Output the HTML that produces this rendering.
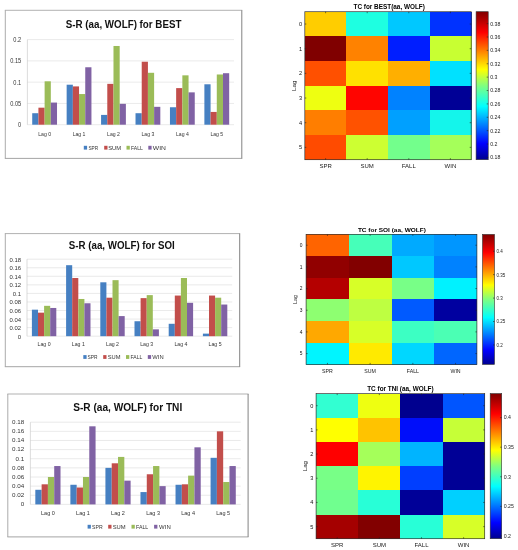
<!DOCTYPE html><html><head><meta charset="utf-8"><title>S-R and TC charts</title><style>html,body{margin:0;padding:0;background:#fff}svg{display:block}text{font-family:"Liberation Sans","DejaVu Sans",sans-serif}</style></head><body>
<svg width="518" height="550" viewBox="0 0 518 550">
<defs><linearGradient id="jet" x1="0" y1="1" x2="0" y2="0">
<stop offset="0" stop-color="#00008f"/>
<stop offset="0.11" stop-color="#0000ff"/>
<stop offset="0.36" stop-color="#00ffff"/>
<stop offset="0.5" stop-color="#80ff80"/>
<stop offset="0.61" stop-color="#ffff00"/>
<stop offset="0.86" stop-color="#ff0000"/>
<stop offset="1" stop-color="#800000"/>
</linearGradient></defs>
<rect width="518" height="550" fill="#fff"/>
<line x1="4.85" y1="10.3" x2="242.25" y2="10.3" stroke="#adadad" stroke-width="0.95"/>
<line x1="5.3" y1="10.3" x2="5.3" y2="158.4" stroke="#a6a6a6" stroke-width="0.95"/>
<line x1="4.85" y1="158.4" x2="242.25" y2="158.4" stroke="#a0a0a0" stroke-width="0.95"/>
<line x1="241.8" y1="10.3" x2="241.8" y2="158.4" stroke="#7c7c7c" stroke-width="0.95"/>
<line x1="27.4" y1="124.70" x2="234" y2="124.70" stroke="#d8d8d8" stroke-width="0.55"/>
<text x="21.2" y="127.10" font-size="6.4" fill="#333" text-anchor="end" textLength="3.13" lengthAdjust="spacingAndGlyphs">0</text>
<line x1="27.4" y1="103.43" x2="234" y2="103.43" stroke="#d8d8d8" stroke-width="0.55"/>
<text x="21.2" y="105.83" font-size="6.4" fill="#333" text-anchor="end" textLength="10.96" lengthAdjust="spacingAndGlyphs">0.05</text>
<line x1="27.4" y1="82.15" x2="234" y2="82.15" stroke="#d8d8d8" stroke-width="0.55"/>
<text x="21.2" y="84.55" font-size="6.4" fill="#333" text-anchor="end" textLength="7.83" lengthAdjust="spacingAndGlyphs">0.1</text>
<line x1="27.4" y1="60.88" x2="234" y2="60.88" stroke="#d8d8d8" stroke-width="0.55"/>
<text x="21.2" y="63.27" font-size="6.4" fill="#333" text-anchor="end" textLength="10.96" lengthAdjust="spacingAndGlyphs">0.15</text>
<line x1="27.4" y1="39.60" x2="234" y2="39.60" stroke="#d8d8d8" stroke-width="0.55"/>
<text x="21.2" y="42.00" font-size="6.4" fill="#333" text-anchor="end" textLength="7.83" lengthAdjust="spacingAndGlyphs">0.2</text>
<line x1="27.4" y1="39.6" x2="27.4" y2="124.7" stroke="#c4c4c4" stroke-width="0.6"/>
<rect x="32.22" y="113.21" width="6.2" height="11.49" fill="#4680c2"/>
<rect x="38.42" y="107.68" width="6.2" height="17.02" fill="#c24e4b"/>
<rect x="44.62" y="81.30" width="6.2" height="43.40" fill="#9bbc58"/>
<rect x="50.82" y="102.57" width="6.2" height="22.13" fill="#8062a4"/>
<text x="44.62" y="135.50" font-size="6.0" fill="#333" text-anchor="middle" textLength="12.8" lengthAdjust="spacingAndGlyphs">Lag 0</text>
<rect x="66.65" y="84.70" width="6.2" height="40.00" fill="#4680c2"/>
<rect x="72.85" y="86.41" width="6.2" height="38.29" fill="#c24e4b"/>
<rect x="79.05" y="94.06" width="6.2" height="30.64" fill="#9bbc58"/>
<rect x="85.25" y="67.26" width="6.2" height="57.44" fill="#8062a4"/>
<text x="79.05" y="135.50" font-size="6.0" fill="#333" text-anchor="middle" textLength="12.8" lengthAdjust="spacingAndGlyphs">Lag 1</text>
<rect x="101.08" y="114.91" width="6.2" height="9.79" fill="#4680c2"/>
<rect x="107.28" y="83.85" width="6.2" height="40.85" fill="#c24e4b"/>
<rect x="113.48" y="45.98" width="6.2" height="78.72" fill="#9bbc58"/>
<rect x="119.68" y="103.85" width="6.2" height="20.85" fill="#8062a4"/>
<text x="113.48" y="135.50" font-size="6.0" fill="#333" text-anchor="middle" textLength="12.8" lengthAdjust="spacingAndGlyphs">Lag 2</text>
<rect x="135.52" y="113.21" width="6.2" height="11.49" fill="#4680c2"/>
<rect x="141.72" y="61.73" width="6.2" height="62.97" fill="#c24e4b"/>
<rect x="147.92" y="72.79" width="6.2" height="51.91" fill="#9bbc58"/>
<rect x="154.12" y="106.83" width="6.2" height="17.87" fill="#8062a4"/>
<text x="147.92" y="135.50" font-size="6.0" fill="#333" text-anchor="middle" textLength="12.8" lengthAdjust="spacingAndGlyphs">Lag 3</text>
<rect x="169.95" y="107.25" width="6.2" height="17.45" fill="#4680c2"/>
<rect x="176.15" y="88.11" width="6.2" height="36.59" fill="#c24e4b"/>
<rect x="182.35" y="75.34" width="6.2" height="49.36" fill="#9bbc58"/>
<rect x="188.55" y="92.36" width="6.2" height="32.34" fill="#8062a4"/>
<text x="182.35" y="135.50" font-size="6.0" fill="#333" text-anchor="middle" textLength="12.8" lengthAdjust="spacingAndGlyphs">Lag 4</text>
<rect x="204.38" y="84.28" width="6.2" height="40.42" fill="#4680c2"/>
<rect x="210.58" y="111.94" width="6.2" height="12.76" fill="#c24e4b"/>
<rect x="216.78" y="74.49" width="6.2" height="50.21" fill="#9bbc58"/>
<rect x="222.98" y="73.21" width="6.2" height="51.49" fill="#8062a4"/>
<text x="216.78" y="135.50" font-size="6.0" fill="#333" text-anchor="middle" textLength="12.8" lengthAdjust="spacingAndGlyphs">Lag 5</text>
<text x="123.6" y="28.4" font-size="11.6" font-weight="bold" fill="#111" text-anchor="middle" textLength="115.7" lengthAdjust="spacingAndGlyphs">S-R (aa, WOLF) for BEST</text>
<rect x="83.80" y="145.80" width="3.3" height="3.8" fill="#4680c2"/>
<text x="88.40" y="149.60" font-size="6" fill="#333" textLength="9.7" lengthAdjust="spacingAndGlyphs">SPR</text>
<rect x="104.20" y="145.80" width="3.3" height="3.8" fill="#c24e4b"/>
<text x="108.20" y="149.60" font-size="6" fill="#333" textLength="13" lengthAdjust="spacingAndGlyphs">SUM</text>
<rect x="126.50" y="145.80" width="3.3" height="3.8" fill="#9bbc58"/>
<text x="131.00" y="149.60" font-size="6" fill="#333" textLength="11.8" lengthAdjust="spacingAndGlyphs">FALL</text>
<rect x="148.30" y="145.80" width="3.3" height="3.8" fill="#8062a4"/>
<text x="152.80" y="149.60" font-size="6" fill="#333" textLength="13.1" lengthAdjust="spacingAndGlyphs">WIN</text>
<line x1="4.85" y1="233.6" x2="240.14999999999998" y2="233.6" stroke="#adadad" stroke-width="0.95"/>
<line x1="5.3" y1="233.6" x2="5.3" y2="366.7" stroke="#a6a6a6" stroke-width="0.95"/>
<line x1="4.85" y1="366.7" x2="240.14999999999998" y2="366.7" stroke="#a0a0a0" stroke-width="0.95"/>
<line x1="239.7" y1="233.6" x2="239.7" y2="366.7" stroke="#7c7c7c" stroke-width="0.95"/>
<line x1="27" y1="336.20" x2="232.2" y2="336.20" stroke="#d8d8d8" stroke-width="0.55"/>
<text x="21" y="338.70" font-size="5.6" fill="#333" text-anchor="end" textLength="3.30" lengthAdjust="spacingAndGlyphs">0</text>
<line x1="27" y1="327.64" x2="232.2" y2="327.64" stroke="#d8d8d8" stroke-width="0.55"/>
<text x="21" y="330.14" font-size="5.6" fill="#333" text-anchor="end" textLength="11.55" lengthAdjust="spacingAndGlyphs">0.02</text>
<line x1="27" y1="319.09" x2="232.2" y2="319.09" stroke="#d8d8d8" stroke-width="0.55"/>
<text x="21" y="321.59" font-size="5.6" fill="#333" text-anchor="end" textLength="11.55" lengthAdjust="spacingAndGlyphs">0.04</text>
<line x1="27" y1="310.53" x2="232.2" y2="310.53" stroke="#d8d8d8" stroke-width="0.55"/>
<text x="21" y="313.03" font-size="5.6" fill="#333" text-anchor="end" textLength="11.55" lengthAdjust="spacingAndGlyphs">0.06</text>
<line x1="27" y1="301.98" x2="232.2" y2="301.98" stroke="#d8d8d8" stroke-width="0.55"/>
<text x="21" y="304.48" font-size="5.6" fill="#333" text-anchor="end" textLength="11.55" lengthAdjust="spacingAndGlyphs">0.08</text>
<line x1="27" y1="293.42" x2="232.2" y2="293.42" stroke="#d8d8d8" stroke-width="0.55"/>
<text x="21" y="295.92" font-size="5.6" fill="#333" text-anchor="end" textLength="8.25" lengthAdjust="spacingAndGlyphs">0.1</text>
<line x1="27" y1="284.87" x2="232.2" y2="284.87" stroke="#d8d8d8" stroke-width="0.55"/>
<text x="21" y="287.37" font-size="5.6" fill="#333" text-anchor="end" textLength="11.55" lengthAdjust="spacingAndGlyphs">0.12</text>
<line x1="27" y1="276.31" x2="232.2" y2="276.31" stroke="#d8d8d8" stroke-width="0.55"/>
<text x="21" y="278.81" font-size="5.6" fill="#333" text-anchor="end" textLength="11.55" lengthAdjust="spacingAndGlyphs">0.14</text>
<line x1="27" y1="267.76" x2="232.2" y2="267.76" stroke="#d8d8d8" stroke-width="0.55"/>
<text x="21" y="270.26" font-size="5.6" fill="#333" text-anchor="end" textLength="11.55" lengthAdjust="spacingAndGlyphs">0.16</text>
<line x1="27" y1="259.20" x2="232.2" y2="259.20" stroke="#d8d8d8" stroke-width="0.55"/>
<text x="21" y="261.70" font-size="5.6" fill="#333" text-anchor="end" textLength="11.55" lengthAdjust="spacingAndGlyphs">0.18</text>
<line x1="27" y1="259.2" x2="27" y2="336.2" stroke="#c4c4c4" stroke-width="0.6"/>
<rect x="31.90" y="309.68" width="6.1" height="26.52" fill="#4680c2"/>
<rect x="38.00" y="312.67" width="6.1" height="23.53" fill="#c24e4b"/>
<rect x="44.10" y="305.83" width="6.1" height="30.37" fill="#9bbc58"/>
<rect x="50.20" y="307.97" width="6.1" height="28.23" fill="#8062a4"/>
<text x="44.10" y="346.30" font-size="5.2" fill="#333" text-anchor="middle" textLength="13" lengthAdjust="spacingAndGlyphs">Lag 0</text>
<rect x="66.10" y="265.19" width="6.1" height="71.01" fill="#4680c2"/>
<rect x="72.20" y="278.02" width="6.1" height="58.18" fill="#c24e4b"/>
<rect x="78.30" y="298.98" width="6.1" height="37.22" fill="#9bbc58"/>
<rect x="84.40" y="303.26" width="6.1" height="32.94" fill="#8062a4"/>
<text x="78.30" y="346.30" font-size="5.2" fill="#333" text-anchor="middle" textLength="13" lengthAdjust="spacingAndGlyphs">Lag 1</text>
<rect x="100.30" y="282.30" width="6.1" height="53.90" fill="#4680c2"/>
<rect x="106.40" y="297.70" width="6.1" height="38.50" fill="#c24e4b"/>
<rect x="112.50" y="280.16" width="6.1" height="56.04" fill="#9bbc58"/>
<rect x="118.60" y="316.09" width="6.1" height="20.11" fill="#8062a4"/>
<text x="112.50" y="346.30" font-size="5.2" fill="#333" text-anchor="middle" textLength="13" lengthAdjust="spacingAndGlyphs">Lag 2</text>
<rect x="134.50" y="321.23" width="6.1" height="14.97" fill="#4680c2"/>
<rect x="140.60" y="298.13" width="6.1" height="38.07" fill="#c24e4b"/>
<rect x="146.70" y="295.13" width="6.1" height="41.07" fill="#9bbc58"/>
<rect x="152.80" y="329.36" width="6.1" height="6.84" fill="#8062a4"/>
<text x="146.70" y="346.30" font-size="5.2" fill="#333" text-anchor="middle" textLength="13" lengthAdjust="spacingAndGlyphs">Lag 3</text>
<rect x="168.70" y="323.79" width="6.1" height="12.41" fill="#4680c2"/>
<rect x="174.80" y="295.56" width="6.1" height="40.64" fill="#c24e4b"/>
<rect x="180.90" y="278.02" width="6.1" height="58.18" fill="#9bbc58"/>
<rect x="187.00" y="302.83" width="6.1" height="33.37" fill="#8062a4"/>
<text x="180.90" y="346.30" font-size="5.2" fill="#333" text-anchor="middle" textLength="13" lengthAdjust="spacingAndGlyphs">Lag 4</text>
<rect x="202.90" y="333.63" width="6.1" height="2.57" fill="#4680c2"/>
<rect x="209.00" y="295.56" width="6.1" height="40.64" fill="#c24e4b"/>
<rect x="215.10" y="297.70" width="6.1" height="38.50" fill="#9bbc58"/>
<rect x="221.20" y="304.54" width="6.1" height="31.66" fill="#8062a4"/>
<text x="215.10" y="346.30" font-size="5.2" fill="#333" text-anchor="middle" textLength="13" lengthAdjust="spacingAndGlyphs">Lag 5</text>
<text x="121.8" y="249.3" font-size="11" font-weight="bold" fill="#111" text-anchor="middle" textLength="106" lengthAdjust="spacingAndGlyphs">S-R (aa, WOLF) for SOI</text>
<rect x="83.30" y="355.10" width="3.3" height="3.8" fill="#4680c2"/>
<text x="87.60" y="358.90" font-size="6" fill="#333" textLength="10" lengthAdjust="spacingAndGlyphs">SPR</text>
<rect x="103.20" y="355.10" width="3.3" height="3.8" fill="#c24e4b"/>
<text x="107.70" y="358.90" font-size="6" fill="#333" textLength="12.8" lengthAdjust="spacingAndGlyphs">SUM</text>
<rect x="126.00" y="355.10" width="3.3" height="3.8" fill="#9bbc58"/>
<text x="130.50" y="358.90" font-size="6" fill="#333" textLength="11.8" lengthAdjust="spacingAndGlyphs">FALL</text>
<rect x="147.80" y="355.10" width="3.3" height="3.8" fill="#8062a4"/>
<text x="152.30" y="358.90" font-size="6" fill="#333" textLength="11.3" lengthAdjust="spacingAndGlyphs">WIN</text>
<line x1="7.35" y1="394" x2="248.54999999999998" y2="394" stroke="#adadad" stroke-width="0.95"/>
<line x1="7.8" y1="394" x2="7.8" y2="536.9" stroke="#a6a6a6" stroke-width="0.95"/>
<line x1="7.35" y1="536.9" x2="248.54999999999998" y2="536.9" stroke="#a0a0a0" stroke-width="0.95"/>
<line x1="248.1" y1="394" x2="248.1" y2="536.9" stroke="#7c7c7c" stroke-width="0.95"/>
<line x1="30.4" y1="504.40" x2="240.7" y2="504.40" stroke="#d8d8d8" stroke-width="0.55"/>
<text x="24.3" y="506.20" font-size="5.9" fill="#333" text-anchor="end" textLength="3.48" lengthAdjust="spacingAndGlyphs">0</text>
<line x1="30.4" y1="495.27" x2="240.7" y2="495.27" stroke="#d8d8d8" stroke-width="0.55"/>
<text x="24.3" y="497.07" font-size="5.9" fill="#333" text-anchor="end" textLength="12.17" lengthAdjust="spacingAndGlyphs">0.02</text>
<line x1="30.4" y1="486.13" x2="240.7" y2="486.13" stroke="#d8d8d8" stroke-width="0.55"/>
<text x="24.3" y="487.93" font-size="5.9" fill="#333" text-anchor="end" textLength="12.17" lengthAdjust="spacingAndGlyphs">0.04</text>
<line x1="30.4" y1="477.00" x2="240.7" y2="477.00" stroke="#d8d8d8" stroke-width="0.55"/>
<text x="24.3" y="478.80" font-size="5.9" fill="#333" text-anchor="end" textLength="12.17" lengthAdjust="spacingAndGlyphs">0.06</text>
<line x1="30.4" y1="467.87" x2="240.7" y2="467.87" stroke="#d8d8d8" stroke-width="0.55"/>
<text x="24.3" y="469.67" font-size="5.9" fill="#333" text-anchor="end" textLength="12.17" lengthAdjust="spacingAndGlyphs">0.08</text>
<line x1="30.4" y1="458.73" x2="240.7" y2="458.73" stroke="#d8d8d8" stroke-width="0.55"/>
<text x="24.3" y="460.53" font-size="5.9" fill="#333" text-anchor="end" textLength="8.69" lengthAdjust="spacingAndGlyphs">0.1</text>
<line x1="30.4" y1="449.60" x2="240.7" y2="449.60" stroke="#d8d8d8" stroke-width="0.55"/>
<text x="24.3" y="451.40" font-size="5.9" fill="#333" text-anchor="end" textLength="12.17" lengthAdjust="spacingAndGlyphs">0.12</text>
<line x1="30.4" y1="440.47" x2="240.7" y2="440.47" stroke="#d8d8d8" stroke-width="0.55"/>
<text x="24.3" y="442.27" font-size="5.9" fill="#333" text-anchor="end" textLength="12.17" lengthAdjust="spacingAndGlyphs">0.14</text>
<line x1="30.4" y1="431.33" x2="240.7" y2="431.33" stroke="#d8d8d8" stroke-width="0.55"/>
<text x="24.3" y="433.13" font-size="5.9" fill="#333" text-anchor="end" textLength="12.17" lengthAdjust="spacingAndGlyphs">0.16</text>
<line x1="30.4" y1="422.20" x2="240.7" y2="422.20" stroke="#d8d8d8" stroke-width="0.55"/>
<text x="24.3" y="424.00" font-size="5.9" fill="#333" text-anchor="end" textLength="12.17" lengthAdjust="spacingAndGlyphs">0.18</text>
<line x1="30.4" y1="422.2" x2="30.4" y2="504.4" stroke="#c4c4c4" stroke-width="0.6"/>
<rect x="35.32" y="489.79" width="6.3" height="14.61" fill="#4680c2"/>
<rect x="41.62" y="484.31" width="6.3" height="20.09" fill="#c24e4b"/>
<rect x="47.92" y="477.00" width="6.3" height="27.40" fill="#9bbc58"/>
<rect x="54.22" y="466.04" width="6.3" height="38.36" fill="#8062a4"/>
<text x="47.92" y="514.90" font-size="5.4" fill="#333" text-anchor="middle" textLength="13.8" lengthAdjust="spacingAndGlyphs">Lag 0</text>
<rect x="70.37" y="484.76" width="6.3" height="19.64" fill="#4680c2"/>
<rect x="76.67" y="487.50" width="6.3" height="16.90" fill="#c24e4b"/>
<rect x="82.97" y="477.00" width="6.3" height="27.40" fill="#9bbc58"/>
<rect x="89.27" y="426.31" width="6.3" height="78.09" fill="#8062a4"/>
<text x="82.97" y="514.90" font-size="5.4" fill="#333" text-anchor="middle" textLength="13.8" lengthAdjust="spacingAndGlyphs">Lag 1</text>
<rect x="105.42" y="467.87" width="6.3" height="36.53" fill="#4680c2"/>
<rect x="111.72" y="463.30" width="6.3" height="41.10" fill="#c24e4b"/>
<rect x="118.02" y="456.91" width="6.3" height="47.49" fill="#9bbc58"/>
<rect x="124.32" y="480.65" width="6.3" height="23.75" fill="#8062a4"/>
<text x="118.03" y="514.90" font-size="5.4" fill="#333" text-anchor="middle" textLength="13.8" lengthAdjust="spacingAndGlyphs">Lag 2</text>
<rect x="140.47" y="492.07" width="6.3" height="12.33" fill="#4680c2"/>
<rect x="146.78" y="474.26" width="6.3" height="30.14" fill="#c24e4b"/>
<rect x="153.07" y="466.04" width="6.3" height="38.36" fill="#9bbc58"/>
<rect x="159.38" y="486.13" width="6.3" height="18.27" fill="#8062a4"/>
<text x="153.07" y="514.90" font-size="5.4" fill="#333" text-anchor="middle" textLength="13.8" lengthAdjust="spacingAndGlyphs">Lag 3</text>
<rect x="175.53" y="484.76" width="6.3" height="19.64" fill="#4680c2"/>
<rect x="181.83" y="484.31" width="6.3" height="20.09" fill="#c24e4b"/>
<rect x="188.12" y="475.63" width="6.3" height="28.77" fill="#9bbc58"/>
<rect x="194.43" y="447.32" width="6.3" height="57.08" fill="#8062a4"/>
<text x="188.12" y="514.90" font-size="5.4" fill="#333" text-anchor="middle" textLength="13.8" lengthAdjust="spacingAndGlyphs">Lag 4</text>
<rect x="210.58" y="457.82" width="6.3" height="46.58" fill="#4680c2"/>
<rect x="216.88" y="431.33" width="6.3" height="73.07" fill="#c24e4b"/>
<rect x="223.18" y="482.02" width="6.3" height="22.38" fill="#9bbc58"/>
<rect x="229.48" y="466.04" width="6.3" height="38.36" fill="#8062a4"/>
<text x="223.18" y="514.90" font-size="5.4" fill="#333" text-anchor="middle" textLength="13.8" lengthAdjust="spacingAndGlyphs">Lag 5</text>
<text x="127.7" y="411.1" font-size="11.5" font-weight="bold" fill="#111" text-anchor="middle" textLength="109" lengthAdjust="spacingAndGlyphs">S-R (aa, WOLF) for TNI</text>
<rect x="87.60" y="524.80" width="3.3" height="3.8" fill="#4680c2"/>
<text x="92.10" y="528.60" font-size="6" fill="#333" textLength="10.6" lengthAdjust="spacingAndGlyphs">SPR</text>
<rect x="108.20" y="524.80" width="3.3" height="3.8" fill="#c24e4b"/>
<text x="112.70" y="528.60" font-size="6" fill="#333" textLength="13" lengthAdjust="spacingAndGlyphs">SUM</text>
<rect x="131.50" y="524.80" width="3.3" height="3.8" fill="#9bbc58"/>
<text x="136.00" y="528.60" font-size="6" fill="#333" textLength="12.3" lengthAdjust="spacingAndGlyphs">FALL</text>
<rect x="154.10" y="524.80" width="3.3" height="3.8" fill="#8062a4"/>
<text x="159.10" y="528.60" font-size="6" fill="#333" textLength="11.6" lengthAdjust="spacingAndGlyphs">WIN</text>
<rect x="304.80" y="11.70" width="41.90" height="24.97" fill="rgb(255, 205, 0)" shape-rendering="crispEdges"/>
<rect x="346.40" y="11.70" width="41.90" height="24.97" fill="rgb(30, 255, 225)" shape-rendering="crispEdges"/>
<rect x="388.00" y="11.70" width="41.90" height="24.97" fill="rgb(0, 200, 255)" shape-rendering="crispEdges"/>
<rect x="429.60" y="11.70" width="41.90" height="24.97" fill="rgb(0, 50, 255)" shape-rendering="crispEdges"/>
<rect x="304.80" y="36.37" width="41.90" height="24.97" fill="rgb(128, 0, 0)" shape-rendering="crispEdges"/>
<rect x="346.40" y="36.37" width="41.90" height="24.97" fill="rgb(255, 130, 0)" shape-rendering="crispEdges"/>
<rect x="388.00" y="36.37" width="41.90" height="24.97" fill="rgb(0, 30, 255)" shape-rendering="crispEdges"/>
<rect x="429.60" y="36.37" width="41.90" height="24.97" fill="rgb(200, 255, 50)" shape-rendering="crispEdges"/>
<rect x="304.80" y="61.03" width="41.90" height="24.97" fill="rgb(255, 80, 0)" shape-rendering="crispEdges"/>
<rect x="346.40" y="61.03" width="41.90" height="24.97" fill="rgb(255, 225, 0)" shape-rendering="crispEdges"/>
<rect x="388.00" y="61.03" width="41.90" height="24.97" fill="rgb(255, 175, 0)" shape-rendering="crispEdges"/>
<rect x="429.60" y="61.03" width="41.90" height="24.97" fill="rgb(0, 225, 255)" shape-rendering="crispEdges"/>
<rect x="304.80" y="85.70" width="41.90" height="24.97" fill="rgb(238, 255, 17)" shape-rendering="crispEdges"/>
<rect x="346.40" y="85.70" width="41.90" height="24.97" fill="rgb(255, 5, 0)" shape-rendering="crispEdges"/>
<rect x="388.00" y="85.70" width="41.90" height="24.97" fill="rgb(0, 130, 255)" shape-rendering="crispEdges"/>
<rect x="429.60" y="85.70" width="41.90" height="24.97" fill="rgb(0, 0, 150)" shape-rendering="crispEdges"/>
<rect x="304.80" y="110.37" width="41.90" height="24.97" fill="rgb(255, 126, 0)" shape-rendering="crispEdges"/>
<rect x="346.40" y="110.37" width="41.90" height="24.97" fill="rgb(255, 82, 0)" shape-rendering="crispEdges"/>
<rect x="388.00" y="110.37" width="41.90" height="24.97" fill="rgb(0, 160, 255)" shape-rendering="crispEdges"/>
<rect x="429.60" y="110.37" width="41.90" height="24.97" fill="rgb(20, 245, 235)" shape-rendering="crispEdges"/>
<rect x="304.80" y="135.03" width="41.90" height="24.97" fill="rgb(255, 75, 0)" shape-rendering="crispEdges"/>
<rect x="346.40" y="135.03" width="41.90" height="24.97" fill="rgb(205, 255, 50)" shape-rendering="crispEdges"/>
<rect x="388.00" y="135.03" width="41.90" height="24.97" fill="rgb(115, 255, 140)" shape-rendering="crispEdges"/>
<rect x="429.60" y="135.03" width="41.90" height="24.97" fill="rgb(165, 255, 90)" shape-rendering="crispEdges"/>
<rect x="304.8" y="11.7" width="166.39999999999998" height="148.0" fill="none" stroke="#333" stroke-width="0.7"/>
<line x1="304.8" y1="24.03" x2="306.3" y2="24.03" stroke="#222" stroke-width="0.6"/>
<line x1="471.2" y1="24.03" x2="469.7" y2="24.03" stroke="#222" stroke-width="0.6"/>
<text x="302.00" y="26.03" font-size="5.60" fill="#111" text-anchor="end">0</text>
<line x1="304.8" y1="48.70" x2="306.3" y2="48.70" stroke="#222" stroke-width="0.6"/>
<line x1="471.2" y1="48.70" x2="469.7" y2="48.70" stroke="#222" stroke-width="0.6"/>
<text x="302.00" y="50.70" font-size="5.60" fill="#111" text-anchor="end">1</text>
<line x1="304.8" y1="73.37" x2="306.3" y2="73.37" stroke="#222" stroke-width="0.6"/>
<line x1="471.2" y1="73.37" x2="469.7" y2="73.37" stroke="#222" stroke-width="0.6"/>
<text x="302.00" y="75.37" font-size="5.60" fill="#111" text-anchor="end">2</text>
<line x1="304.8" y1="98.03" x2="306.3" y2="98.03" stroke="#222" stroke-width="0.6"/>
<line x1="471.2" y1="98.03" x2="469.7" y2="98.03" stroke="#222" stroke-width="0.6"/>
<text x="302.00" y="100.03" font-size="5.60" fill="#111" text-anchor="end">3</text>
<line x1="304.8" y1="122.70" x2="306.3" y2="122.70" stroke="#222" stroke-width="0.6"/>
<line x1="471.2" y1="122.70" x2="469.7" y2="122.70" stroke="#222" stroke-width="0.6"/>
<text x="302.00" y="124.70" font-size="5.60" fill="#111" text-anchor="end">4</text>
<line x1="304.8" y1="147.37" x2="306.3" y2="147.37" stroke="#222" stroke-width="0.6"/>
<line x1="471.2" y1="147.37" x2="469.7" y2="147.37" stroke="#222" stroke-width="0.6"/>
<text x="302.00" y="149.37" font-size="5.60" fill="#111" text-anchor="end">5</text>
<line x1="325.60" y1="11.7" x2="325.60" y2="13.2" stroke="#222" stroke-width="0.6"/>
<line x1="325.60" y1="159.7" x2="325.60" y2="158.2" stroke="#222" stroke-width="0.6"/>
<text x="325.60" y="168.00" font-size="6.00" fill="#1a1a1a" text-anchor="middle">SPR</text>
<line x1="367.20" y1="11.7" x2="367.20" y2="13.2" stroke="#222" stroke-width="0.6"/>
<line x1="367.20" y1="159.7" x2="367.20" y2="158.2" stroke="#222" stroke-width="0.6"/>
<text x="367.20" y="168.00" font-size="6.00" fill="#1a1a1a" text-anchor="middle">SUM</text>
<line x1="408.80" y1="11.7" x2="408.80" y2="13.2" stroke="#222" stroke-width="0.6"/>
<line x1="408.80" y1="159.7" x2="408.80" y2="158.2" stroke="#222" stroke-width="0.6"/>
<text x="408.80" y="168.00" font-size="6.00" fill="#1a1a1a" text-anchor="middle">FALL</text>
<line x1="450.40" y1="11.7" x2="450.40" y2="13.2" stroke="#222" stroke-width="0.6"/>
<line x1="450.40" y1="159.7" x2="450.40" y2="158.2" stroke="#222" stroke-width="0.6"/>
<text x="450.40" y="168.00" font-size="6.00" fill="#1a1a1a" text-anchor="middle">WIN</text>
<text x="295.6" y="85.69999999999999" font-size="6.20" fill="#1a1a1a" text-anchor="middle" transform="rotate(-90 295.6 85.69999999999999)">Lag</text>
<text x="389.20" y="9.30" font-size="6.40" font-weight="bold" fill="#000" text-anchor="middle">TC for BEST(aa, WOLF)</text>
<rect x="476.1" y="11.7" width="12.099999999999966" height="148.0" fill="url(#jet)" stroke="#333" stroke-width="0.6"/>
<line x1="488.2" y1="157.43" x2="486.7" y2="157.43" stroke="#222" stroke-width="0.6"/>
<text x="490.2" y="159.33" font-size="5.20" fill="#222">0.18</text>
<line x1="488.2" y1="144.04" x2="486.7" y2="144.04" stroke="#222" stroke-width="0.6"/>
<text x="490.2" y="145.94" font-size="5.20" fill="#222">0.2</text>
<line x1="488.2" y1="130.66" x2="486.7" y2="130.66" stroke="#222" stroke-width="0.6"/>
<text x="490.2" y="132.56" font-size="5.20" fill="#222">0.22</text>
<line x1="488.2" y1="117.28" x2="486.7" y2="117.28" stroke="#222" stroke-width="0.6"/>
<text x="490.2" y="119.18" font-size="5.20" fill="#222">0.24</text>
<line x1="488.2" y1="103.90" x2="486.7" y2="103.90" stroke="#222" stroke-width="0.6"/>
<text x="490.2" y="105.80" font-size="5.20" fill="#222">0.26</text>
<line x1="488.2" y1="90.52" x2="486.7" y2="90.52" stroke="#222" stroke-width="0.6"/>
<text x="490.2" y="92.42" font-size="5.20" fill="#222">0.28</text>
<line x1="488.2" y1="77.14" x2="486.7" y2="77.14" stroke="#222" stroke-width="0.6"/>
<text x="490.2" y="79.04" font-size="5.20" fill="#222">0.3</text>
<line x1="488.2" y1="63.75" x2="486.7" y2="63.75" stroke="#222" stroke-width="0.6"/>
<text x="490.2" y="65.65" font-size="5.20" fill="#222">0.32</text>
<line x1="488.2" y1="50.37" x2="486.7" y2="50.37" stroke="#222" stroke-width="0.6"/>
<text x="490.2" y="52.27" font-size="5.20" fill="#222">0.34</text>
<line x1="488.2" y1="36.99" x2="486.7" y2="36.99" stroke="#222" stroke-width="0.6"/>
<text x="490.2" y="38.89" font-size="5.20" fill="#222">0.36</text>
<line x1="488.2" y1="23.61" x2="486.7" y2="23.61" stroke="#222" stroke-width="0.6"/>
<text x="490.2" y="25.51" font-size="5.20" fill="#222">0.38</text>
<rect x="306.10" y="234.40" width="43.00" height="21.97" fill="rgb(255, 100, 0)" shape-rendering="crispEdges"/>
<rect x="348.80" y="234.40" width="43.00" height="21.97" fill="rgb(70, 255, 185)" shape-rendering="crispEdges"/>
<rect x="391.50" y="234.40" width="43.00" height="21.97" fill="rgb(0, 170, 255)" shape-rendering="crispEdges"/>
<rect x="434.20" y="234.40" width="43.00" height="21.97" fill="rgb(0, 150, 255)" shape-rendering="crispEdges"/>
<rect x="306.10" y="256.07" width="43.00" height="21.97" fill="rgb(145, 0, 0)" shape-rendering="crispEdges"/>
<rect x="348.80" y="256.07" width="43.00" height="21.97" fill="rgb(130, 0, 0)" shape-rendering="crispEdges"/>
<rect x="391.50" y="256.07" width="43.00" height="21.97" fill="rgb(0, 200, 255)" shape-rendering="crispEdges"/>
<rect x="434.20" y="256.07" width="43.00" height="21.97" fill="rgb(0, 130, 255)" shape-rendering="crispEdges"/>
<rect x="306.10" y="277.73" width="43.00" height="21.97" fill="rgb(180, 0, 0)" shape-rendering="crispEdges"/>
<rect x="348.80" y="277.73" width="43.00" height="21.97" fill="rgb(215, 255, 40)" shape-rendering="crispEdges"/>
<rect x="391.50" y="277.73" width="43.00" height="21.97" fill="rgb(120, 255, 135)" shape-rendering="crispEdges"/>
<rect x="434.20" y="277.73" width="43.00" height="21.97" fill="rgb(0, 242, 255)" shape-rendering="crispEdges"/>
<rect x="306.10" y="299.40" width="43.00" height="21.97" fill="rgb(142, 255, 113)" shape-rendering="crispEdges"/>
<rect x="348.80" y="299.40" width="43.00" height="21.97" fill="rgb(190, 255, 65)" shape-rendering="crispEdges"/>
<rect x="391.50" y="299.40" width="43.00" height="21.97" fill="rgb(0, 90, 255)" shape-rendering="crispEdges"/>
<rect x="434.20" y="299.40" width="43.00" height="21.97" fill="rgb(0, 0, 160)" shape-rendering="crispEdges"/>
<rect x="306.10" y="321.07" width="43.00" height="21.97" fill="rgb(255, 168, 0)" shape-rendering="crispEdges"/>
<rect x="348.80" y="321.07" width="43.00" height="21.97" fill="rgb(215, 255, 40)" shape-rendering="crispEdges"/>
<rect x="391.50" y="321.07" width="43.00" height="21.97" fill="rgb(60, 255, 195)" shape-rendering="crispEdges"/>
<rect x="434.20" y="321.07" width="43.00" height="21.97" fill="rgb(75, 255, 180)" shape-rendering="crispEdges"/>
<rect x="306.10" y="342.73" width="43.00" height="21.97" fill="rgb(0, 245, 255)" shape-rendering="crispEdges"/>
<rect x="348.80" y="342.73" width="43.00" height="21.97" fill="rgb(255, 234, 0)" shape-rendering="crispEdges"/>
<rect x="391.50" y="342.73" width="43.00" height="21.97" fill="rgb(0, 215, 255)" shape-rendering="crispEdges"/>
<rect x="434.20" y="342.73" width="43.00" height="21.97" fill="rgb(0, 102, 255)" shape-rendering="crispEdges"/>
<rect x="306.1" y="234.4" width="170.79999999999995" height="129.99999999999997" fill="none" stroke="#333" stroke-width="0.7"/>
<line x1="306.1" y1="245.23" x2="307.6" y2="245.23" stroke="#222" stroke-width="0.6"/>
<line x1="476.9" y1="245.23" x2="475.4" y2="245.23" stroke="#222" stroke-width="0.6"/>
<text x="302.50" y="246.97" font-size="4.87" fill="#111" text-anchor="end">0</text>
<line x1="306.1" y1="266.90" x2="307.6" y2="266.90" stroke="#222" stroke-width="0.6"/>
<line x1="476.9" y1="266.90" x2="475.4" y2="266.90" stroke="#222" stroke-width="0.6"/>
<text x="302.50" y="268.64" font-size="4.87" fill="#111" text-anchor="end">1</text>
<line x1="306.1" y1="288.57" x2="307.6" y2="288.57" stroke="#222" stroke-width="0.6"/>
<line x1="476.9" y1="288.57" x2="475.4" y2="288.57" stroke="#222" stroke-width="0.6"/>
<text x="302.50" y="290.31" font-size="4.87" fill="#111" text-anchor="end">2</text>
<line x1="306.1" y1="310.23" x2="307.6" y2="310.23" stroke="#222" stroke-width="0.6"/>
<line x1="476.9" y1="310.23" x2="475.4" y2="310.23" stroke="#222" stroke-width="0.6"/>
<text x="302.50" y="311.97" font-size="4.87" fill="#111" text-anchor="end">3</text>
<line x1="306.1" y1="331.90" x2="307.6" y2="331.90" stroke="#222" stroke-width="0.6"/>
<line x1="476.9" y1="331.90" x2="475.4" y2="331.90" stroke="#222" stroke-width="0.6"/>
<text x="302.50" y="333.64" font-size="4.87" fill="#111" text-anchor="end">4</text>
<line x1="306.1" y1="353.57" x2="307.6" y2="353.57" stroke="#222" stroke-width="0.6"/>
<line x1="476.9" y1="353.57" x2="475.4" y2="353.57" stroke="#222" stroke-width="0.6"/>
<text x="302.50" y="355.31" font-size="4.87" fill="#111" text-anchor="end">5</text>
<line x1="327.45" y1="234.4" x2="327.45" y2="235.9" stroke="#222" stroke-width="0.6"/>
<line x1="327.45" y1="364.4" x2="327.45" y2="362.9" stroke="#222" stroke-width="0.6"/>
<text x="327.45" y="372.70" font-size="5.22" fill="#1a1a1a" text-anchor="middle">SPR</text>
<line x1="370.15" y1="234.4" x2="370.15" y2="235.9" stroke="#222" stroke-width="0.6"/>
<line x1="370.15" y1="364.4" x2="370.15" y2="362.9" stroke="#222" stroke-width="0.6"/>
<text x="370.15" y="372.70" font-size="5.22" fill="#1a1a1a" text-anchor="middle">SUM</text>
<line x1="412.85" y1="234.4" x2="412.85" y2="235.9" stroke="#222" stroke-width="0.6"/>
<line x1="412.85" y1="364.4" x2="412.85" y2="362.9" stroke="#222" stroke-width="0.6"/>
<text x="412.85" y="372.70" font-size="5.22" fill="#1a1a1a" text-anchor="middle">FALL</text>
<line x1="455.55" y1="234.4" x2="455.55" y2="235.9" stroke="#222" stroke-width="0.6"/>
<line x1="455.55" y1="364.4" x2="455.55" y2="362.9" stroke="#222" stroke-width="0.6"/>
<text x="455.55" y="372.70" font-size="5.22" fill="#1a1a1a" text-anchor="middle">WIN</text>
<text x="296.90000000000003" y="299.4" font-size="5.39" fill="#1a1a1a" text-anchor="middle" transform="rotate(-90 296.90000000000003 299.4)">Lag</text>
<text x="391.90" y="232.00" font-size="5.57" font-weight="bold" fill="#000" text-anchor="middle" textLength="68" lengthAdjust="spacingAndGlyphs">TC for SOI (aa, WOLF)</text>
<rect x="482.5" y="234.4" width="12.0" height="129.99999999999997" fill="url(#jet)" stroke="#333" stroke-width="0.6"/>
<line x1="494.5" y1="344.98" x2="493.0" y2="344.98" stroke="#222" stroke-width="0.6"/>
<text x="496.5" y="346.88" font-size="4.52" fill="#222">0.2</text>
<line x1="494.5" y1="321.54" x2="493.0" y2="321.54" stroke="#222" stroke-width="0.6"/>
<text x="496.5" y="323.44" font-size="4.52" fill="#222">0.25</text>
<line x1="494.5" y1="298.09" x2="493.0" y2="298.09" stroke="#222" stroke-width="0.6"/>
<text x="496.5" y="299.99" font-size="4.52" fill="#222">0.3</text>
<line x1="494.5" y1="274.64" x2="493.0" y2="274.64" stroke="#222" stroke-width="0.6"/>
<text x="496.5" y="276.54" font-size="4.52" fill="#222">0.35</text>
<line x1="494.5" y1="251.19" x2="493.0" y2="251.19" stroke="#222" stroke-width="0.6"/>
<text x="496.5" y="253.09" font-size="4.52" fill="#222">0.4</text>
<rect x="316.10" y="393.60" width="42.45" height="24.48" fill="rgb(50, 255, 210)" shape-rendering="crispEdges"/>
<rect x="358.25" y="393.60" width="42.45" height="24.48" fill="rgb(238, 255, 17)" shape-rendering="crispEdges"/>
<rect x="400.40" y="393.60" width="42.45" height="24.48" fill="rgb(0, 0, 143)" shape-rendering="crispEdges"/>
<rect x="442.55" y="393.60" width="42.45" height="24.48" fill="rgb(0, 85, 255)" shape-rendering="crispEdges"/>
<rect x="316.10" y="417.78" width="42.45" height="24.48" fill="rgb(255, 255, 0)" shape-rendering="crispEdges"/>
<rect x="358.25" y="417.78" width="42.45" height="24.48" fill="rgb(255, 195, 0)" shape-rendering="crispEdges"/>
<rect x="400.40" y="417.78" width="42.45" height="24.48" fill="rgb(0, 14, 250)" shape-rendering="crispEdges"/>
<rect x="442.55" y="417.78" width="42.45" height="24.48" fill="rgb(198, 255, 55)" shape-rendering="crispEdges"/>
<rect x="316.10" y="441.97" width="42.45" height="24.48" fill="rgb(255, 0, 0)" shape-rendering="crispEdges"/>
<rect x="358.25" y="441.97" width="42.45" height="24.48" fill="rgb(165, 255, 90)" shape-rendering="crispEdges"/>
<rect x="400.40" y="441.97" width="42.45" height="24.48" fill="rgb(0, 180, 255)" shape-rendering="crispEdges"/>
<rect x="442.55" y="441.97" width="42.45" height="24.48" fill="rgb(0, 0, 150)" shape-rendering="crispEdges"/>
<rect x="316.10" y="466.15" width="42.45" height="24.48" fill="rgb(120, 255, 135)" shape-rendering="crispEdges"/>
<rect x="358.25" y="466.15" width="42.45" height="24.48" fill="rgb(255, 244, 0)" shape-rendering="crispEdges"/>
<rect x="400.40" y="466.15" width="42.45" height="24.48" fill="rgb(0, 62, 255)" shape-rendering="crispEdges"/>
<rect x="442.55" y="466.15" width="42.45" height="24.48" fill="rgb(0, 0, 150)" shape-rendering="crispEdges"/>
<rect x="316.10" y="490.33" width="42.45" height="24.48" fill="rgb(112, 255, 143)" shape-rendering="crispEdges"/>
<rect x="358.25" y="490.33" width="42.45" height="24.48" fill="rgb(40, 255, 215)" shape-rendering="crispEdges"/>
<rect x="400.40" y="490.33" width="42.45" height="24.48" fill="rgb(0, 0, 152)" shape-rendering="crispEdges"/>
<rect x="442.55" y="490.33" width="42.45" height="24.48" fill="rgb(0, 208, 255)" shape-rendering="crispEdges"/>
<rect x="316.10" y="514.52" width="42.45" height="24.48" fill="rgb(165, 0, 0)" shape-rendering="crispEdges"/>
<rect x="358.25" y="514.52" width="42.45" height="24.48" fill="rgb(130, 0, 0)" shape-rendering="crispEdges"/>
<rect x="400.40" y="514.52" width="42.45" height="24.48" fill="rgb(40, 255, 215)" shape-rendering="crispEdges"/>
<rect x="442.55" y="514.52" width="42.45" height="24.48" fill="rgb(215, 255, 40)" shape-rendering="crispEdges"/>
<rect x="316.1" y="393.6" width="168.59999999999997" height="145.10000000000002" fill="none" stroke="#333" stroke-width="0.7"/>
<line x1="316.1" y1="405.69" x2="317.6" y2="405.69" stroke="#222" stroke-width="0.6"/>
<line x1="484.7" y1="405.69" x2="483.2" y2="405.69" stroke="#222" stroke-width="0.6"/>
<text x="313.30" y="407.69" font-size="5.60" fill="#111" text-anchor="end">0</text>
<line x1="316.1" y1="429.88" x2="317.6" y2="429.88" stroke="#222" stroke-width="0.6"/>
<line x1="484.7" y1="429.88" x2="483.2" y2="429.88" stroke="#222" stroke-width="0.6"/>
<text x="313.30" y="431.88" font-size="5.60" fill="#111" text-anchor="end">1</text>
<line x1="316.1" y1="454.06" x2="317.6" y2="454.06" stroke="#222" stroke-width="0.6"/>
<line x1="484.7" y1="454.06" x2="483.2" y2="454.06" stroke="#222" stroke-width="0.6"/>
<text x="313.30" y="456.06" font-size="5.60" fill="#111" text-anchor="end">2</text>
<line x1="316.1" y1="478.24" x2="317.6" y2="478.24" stroke="#222" stroke-width="0.6"/>
<line x1="484.7" y1="478.24" x2="483.2" y2="478.24" stroke="#222" stroke-width="0.6"/>
<text x="313.30" y="480.24" font-size="5.60" fill="#111" text-anchor="end">3</text>
<line x1="316.1" y1="502.43" x2="317.6" y2="502.43" stroke="#222" stroke-width="0.6"/>
<line x1="484.7" y1="502.43" x2="483.2" y2="502.43" stroke="#222" stroke-width="0.6"/>
<text x="313.30" y="504.43" font-size="5.60" fill="#111" text-anchor="end">4</text>
<line x1="316.1" y1="526.61" x2="317.6" y2="526.61" stroke="#222" stroke-width="0.6"/>
<line x1="484.7" y1="526.61" x2="483.2" y2="526.61" stroke="#222" stroke-width="0.6"/>
<text x="313.30" y="528.61" font-size="5.60" fill="#111" text-anchor="end">5</text>
<line x1="337.18" y1="393.6" x2="337.18" y2="395.1" stroke="#222" stroke-width="0.6"/>
<line x1="337.18" y1="538.7" x2="337.18" y2="537.2" stroke="#222" stroke-width="0.6"/>
<text x="337.18" y="547.00" font-size="6.00" fill="#1a1a1a" text-anchor="middle">SPR</text>
<line x1="379.32" y1="393.6" x2="379.32" y2="395.1" stroke="#222" stroke-width="0.6"/>
<line x1="379.32" y1="538.7" x2="379.32" y2="537.2" stroke="#222" stroke-width="0.6"/>
<text x="379.32" y="547.00" font-size="6.00" fill="#1a1a1a" text-anchor="middle">SUM</text>
<line x1="421.48" y1="393.6" x2="421.48" y2="395.1" stroke="#222" stroke-width="0.6"/>
<line x1="421.48" y1="538.7" x2="421.48" y2="537.2" stroke="#222" stroke-width="0.6"/>
<text x="421.48" y="547.00" font-size="6.00" fill="#1a1a1a" text-anchor="middle">FALL</text>
<line x1="463.62" y1="393.6" x2="463.62" y2="395.1" stroke="#222" stroke-width="0.6"/>
<line x1="463.62" y1="538.7" x2="463.62" y2="537.2" stroke="#222" stroke-width="0.6"/>
<text x="463.62" y="547.00" font-size="6.00" fill="#1a1a1a" text-anchor="middle">WIN</text>
<text x="306.90000000000003" y="466.15000000000003" font-size="6.20" fill="#1a1a1a" text-anchor="middle" transform="rotate(-90 306.90000000000003 466.15000000000003)">Lag</text>
<text x="400.40" y="391.20" font-size="6.40" font-weight="bold" fill="#000" text-anchor="middle">TC for TNI (aa, WOLF)</text>
<rect x="490.2" y="393.6" width="11.5" height="145.10000000000002" fill="url(#jet)" stroke="#333" stroke-width="0.6"/>
<line x1="501.7" y1="535.98" x2="500.2" y2="535.98" stroke="#222" stroke-width="0.6"/>
<text x="503.7" y="537.88" font-size="5.20" fill="#222">0.2</text>
<line x1="501.7" y1="506.38" x2="500.2" y2="506.38" stroke="#222" stroke-width="0.6"/>
<text x="503.7" y="508.28" font-size="5.20" fill="#222">0.25</text>
<line x1="501.7" y1="476.78" x2="500.2" y2="476.78" stroke="#222" stroke-width="0.6"/>
<text x="503.7" y="478.68" font-size="5.20" fill="#222">0.3</text>
<line x1="501.7" y1="447.18" x2="500.2" y2="447.18" stroke="#222" stroke-width="0.6"/>
<text x="503.7" y="449.08" font-size="5.20" fill="#222">0.35</text>
<line x1="501.7" y1="417.58" x2="500.2" y2="417.58" stroke="#222" stroke-width="0.6"/>
<text x="503.7" y="419.48" font-size="5.20" fill="#222">0.4</text>
</svg></body></html>
